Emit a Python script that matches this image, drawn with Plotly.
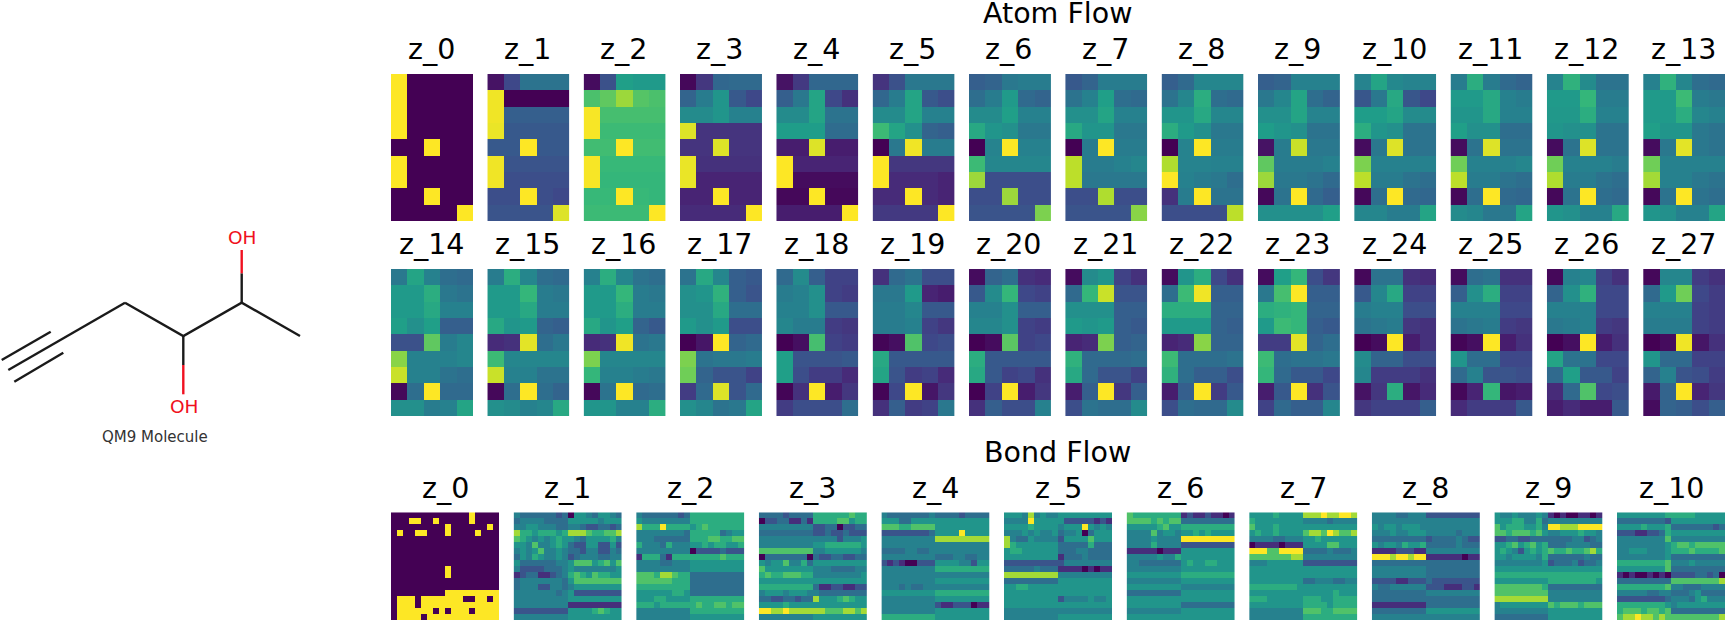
import plotly.graph_objects as go

# ---------- atom flow panels: 9 rows x 5 columns, values read on a 0-100 viridis position ----------
atom_z_0 = [[100,0,0,0,0],[100,0,0,0,0],[100,0,0,0,0],[100,0,0,0,0],[0,0,100,0,0],[100,0,0,0,0],[100,0,0,0,0],[0,0,100,0,0],[0,0,0,0,100]]
atom_z_1 = [[5,22,38,38,38],[98,0,0,0,0],[98,30,30,30,30],[97,28,28,28,28],[28,28,100,28,28],[98,26,26,26,26],[98,24,24,24,24],[24,24,100,24,22],[26,26,26,26,95]]
atom_z_2 = [[3,25,56,54,54],[71,75,85,73,71],[99,70,70,70,70],[99,68,68,68,68],[69,69,100,69,69],[99,67,67,67,67],[99,66,66,66,66],[67,67,100,67,66],[68,68,68,68,100]]
atom_z_3 = [[2,16,33,34,34],[32,42,52,28,22],[48,48,52,44,44],[95,15,15,15,15],[15,15,95,15,15],[97,14,14,14,14],[97,10,10,10,10],[10,10,100,10,10],[12,12,12,12,100]]
atom_z_4 = [[5,17,33,33,33],[30,40,58,22,14],[48,48,58,38,38],[55,55,55,35,35],[8,8,95,8,8],[100,10,10,10,10],[100,3,3,3,3],[2,2,100,2,2],[8,8,8,8,100]]
atom_z_5 = [[15,25,40,40,40],[33,42,58,28,24],[48,48,58,44,44],[68,58,50,32,30],[0,40,98,42,42],[100,16,16,16,16],[100,12,12,12,10],[12,12,100,12,10],[17,17,17,17,100]]
atom_z_6 = [[30,32,40,42,42],[36,42,54,34,32],[48,48,56,44,44],[60,52,50,40,40],[0,45,100,44,44],[68,46,46,46,46],[85,24,24,24,24],[24,24,85,24,24],[26,26,26,26,80]]
atom_z_7 = [[28,32,42,42,42],[38,44,56,36,34],[50,50,58,44,44],[60,52,52,40,40],[0,42,100,42,42],[90,42,42,44,46],[90,40,40,40,40],[24,24,88,24,24],[26,26,26,26,82]]
atom_z_8 = [[30,34,46,46,46],[38,46,62,36,34],[52,52,60,46,46],[62,54,50,40,40],[0,45,100,42,42],[88,45,45,44,44],[100,44,42,40,36],[14,42,100,38,38],[24,24,24,24,90]]
atom_z_9 = [[30,32,44,44,44],[40,46,58,36,32],[50,50,58,45,45],[55,52,50,38,38],[5,42,92,40,40],[75,42,42,42,44],[85,40,40,38,34],[2,38,100,34,30],[50,50,50,50,56]]
atom_z_10 = [[45,58,47,45,45],[27,40,60,27,22],[55,55,58,48,48],[62,52,50,38,38],[3,40,95,38,38],[80,44,44,44,44],[90,42,42,38,36],[2,36,100,34,33],[46,46,42,42,58]]
atom_z_11 = [[42,62,42,34,32],[54,54,60,44,42],[52,52,60,44,44],[56,50,50,36,36],[3,38,95,38,38],[78,44,44,44,46],[90,42,42,38,36],[2,36,100,34,33],[48,46,40,40,58]]
atom_z_12 = [[45,64,48,38,38],[54,54,66,42,42],[53,53,62,44,44],[52,50,50,38,38],[3,38,95,38,38],[78,44,44,44,42],[88,42,42,38,36],[2,38,100,36,34],[52,50,44,44,60]]
atom_z_13 = [[44,64,46,36,34],[54,54,68,42,40],[54,54,62,46,44],[56,52,52,40,38],[3,40,96,40,38],[78,44,44,44,44],[86,44,44,40,38],[2,38,100,38,36],[52,50,44,44,58]]
atom_z_14 = [[40,58,44,36,34],[54,54,62,40,38],[54,54,60,44,44],[56,50,56,30,30],[25,25,75,42,46],[82,44,44,44,46],[92,44,44,38,36],[2,36,100,34,34],[50,50,42,44,58]]
atom_z_15 = [[42,62,46,36,34],[54,54,66,42,40],[54,54,60,42,42],[60,52,54,32,30],[12,14,96,36,40],[68,46,46,46,46],[92,44,44,38,38],[2,36,100,36,32],[50,48,44,46,60]]
atom_z_16 = [[44,62,46,38,36],[54,54,66,42,40],[54,54,62,42,42],[60,52,56,32,28],[12,14,98,38,40],[80,46,46,46,46],[66,44,44,42,40],[2,38,100,34,36],[52,52,44,44,62]]
atom_z_17 = [[38,60,46,30,28],[50,52,64,30,26],[50,50,60,36,36],[54,50,54,24,24],[0,6,100,32,34],[80,38,40,40,42],[78,32,26,26,20],[18,34,95,26,34],[50,46,38,40,58]]
atom_z_18 = [[34,48,30,20,20],[42,44,50,20,18],[44,44,50,28,28],[46,42,42,18,16],[0,4,70,20,18],[56,26,26,26,28],[56,24,18,18,12],[1,14,100,8,16],[18,24,24,24,36]]
atom_z_19 = [[14,34,38,24,24],[40,40,54,10,8],[42,42,46,28,28],[42,42,44,20,16],[1,4,72,22,24],[60,28,28,28,28],[58,26,18,20,12],[1,22,100,6,16],[14,30,18,20,40]]
atom_z_20 = [[3,32,36,14,12],[28,48,66,22,20],[44,44,50,30,30],[46,46,50,20,18],[0,3,74,20,22],[62,28,28,28,28],[60,28,20,22,14],[0,20,100,8,16],[14,30,24,24,44]]
atom_z_21 = [[3,48,52,20,14],[34,66,92,26,26],[50,50,50,30,30],[54,52,54,30,28],[10,12,80,30,32],[64,34,34,34,36],[60,34,26,26,20],[8,30,100,16,30],[24,38,36,36,48]]
atom_z_22 = [[3,52,62,22,14],[36,68,98,30,30],[62,62,62,32,32],[54,54,54,32,30],[10,12,82,32,32],[68,36,36,36,38],[64,36,30,30,24],[8,30,100,18,28],[24,36,34,34,48]]
atom_z_23 = [[3,56,66,24,16],[40,70,100,30,30],[62,64,66,32,32],[54,68,66,30,28],[18,18,96,32,36],[68,36,38,38,40],[66,34,28,28,22],[8,28,100,14,26],[20,34,30,30,46]]
atom_z_24 = [[2,38,38,14,12],[28,46,60,20,20],[42,44,44,24,24],[38,40,42,16,14],[0,3,100,8,14],[48,32,32,24,24],[46,18,18,18,14],[5,16,62,6,12],[16,20,20,20,30]]
atom_z_25 = [[3,36,38,14,14],[30,50,62,20,20],[44,44,44,22,22],[38,40,42,18,16],[1,4,100,8,14],[52,36,36,22,22],[34,44,26,26,24],[2,10,66,6,8],[12,18,18,18,28]]
atom_z_26 = [[2,44,46,20,14],[32,50,64,22,22],[44,44,44,22,22],[40,42,44,18,16],[0,4,100,8,14],[58,38,38,22,22],[34,56,28,28,20],[12,34,72,22,24],[8,12,8,8,28]]
atom_z_27 = [[2,46,46,18,14],[34,54,78,22,18],[44,44,44,20,18],[42,42,42,20,18],[0,3,98,6,14],[52,34,34,20,20],[32,44,26,24,18],[7,32,100,10,16],[3,32,30,24,30]]
atom_panels = [atom_z_0,atom_z_1,atom_z_2,atom_z_3,atom_z_4,atom_z_5,atom_z_6,atom_z_7,atom_z_8,atom_z_9,atom_z_10,atom_z_11,atom_z_12,atom_z_13,
               atom_z_14,atom_z_15,atom_z_16,atom_z_17,atom_z_18,atom_z_19,atom_z_20,atom_z_21,atom_z_22,atom_z_23,atom_z_24,atom_z_25,atom_z_26,atom_z_27]

# ---------- bond flow panels: 18 rows x 18 columns, one digit per cell ----------
# each digit is a reading level; bond_levels gives its position (0-100) along viridis
bond_levels = [0, 13, 26, 36, 44, 52, 62, 72, 86, 100]
bond_z_0 = ["000000000000090000","000990090000090000","000000000900000090","090099000900009000",
            "000000000000000000","000000000000000000","000000000000000000","000000000000000000","000000000000000000",
            "000000000900000000","000000000900000000","000000000000000000","000000000000000000","000000000999999999",
            "099909999999009909","099909999999999999","099999909099909999","099990999999999999"]
bond_z_1 = ["433333323055435543","344443333555554555","445544433443223323","866566656888766778","765454565543555564","554744565322552252",
            "454574454332442243","354654454234443344","533333344577756757","422223334544444445","123311234676576655","344444443577777777",
            "344422443455555555","444444434522222222","444444444555555555","444444444111111111","222222222555567655","444444444555555555"]
bond_z_2 = ["433333323666666666","544444444666666666","866696666567666666","444444443666663455","444333333666776677","644436444556566556",
            "444444444022223222","166631666666667666","444433444555555555","444444444555555555","777688766333333333","777777666333333333",
            "666666666333333333","555555665333333333","555665555666666666","666566666676677677","444444444666666666","444444444555555555"]
bond_z_3 = ["333323333666666766","022331131666677566","444444444223302233","333333333223223222","444444444444424445","444444444556666665",
            "777777777445555554","033333330322332233","545574463555555555","755555555444333344","676677766444444445","555555555555555555",
            "666666666311221122","455545554433333333","332233233855567655","555565555555555555","998898888887778878","444444444555555555"]
bond_z_4 = ["433333334333323333","555335555555555555","777667777555555555","222222223555595555","444444444888888888","444444444444444444",
            "333344334444444444","444444444333443344","212100222555544255","444444444666666666","444444444444444444","444444444555555555",
            "444343344444444444","555555555666666666","444444444555555555","444444444211222011","444444444555555555","666666666555555555"]
bond_z_5 = ["555484544555555555","444495555522222121","555565555455595454","444545445344503555","843354444255557555","865555555333336333",
            "566555555333443333","555555555133343333","222222222244444444","333334333111101011","888888888444444444","333333333555555555",
            "556655555555555555","555555555555555555","555555555244445445","555555555555555555","444444444444444444","444444444555555555"]
bond_z_6 = ["766666666121121101","777767677333333333","555556755666666666","444474554556565555","444454444999999999","444464444222222222",
            "111110111555555555","444445446555555555","443333333565566555","444444444555555555","555555555666666666","444444444555555555",
            "555555555444444444","333333333555555555","555555555555555555","555555555333333333","444444444555555555","555555555555555555"]
bond_z_7 = ["555565555888988998","655555555444434444","755565555555555555","565565555788798778","444433444556555555","011110111555577555",
            "999779999333343334","777777788444444444","444555555222222222","555555555555555555","555555555555555555","555555555334443344",
            "666666665555555555","555555555555556555","666555555666556666","555555555666656666","444444444777667777","444444444666666666"]
bond_z_8 = ["444433444222222222","444444444444444444","545545554444444444","444544555444443444","333333333233334322","545546556333334333",
            "111122211444444444","999899899111111011","333333333333333333","444444444333333333","444444444333333333","222211222322222222",
            "433444444222111221","333333333444444444","333333333333333333","111111111333333333","333333333555555555","444444444444444444"]
bond_z_9 = ["544544454101001101","555664463444444444","756665564998889999","776777675445556554","223322333333344234","556756756333444433",
            "565425656766766786","554555546333333433","444444445233342334","555555555555555555","666666666666666666","555555555666666665",
            "777777776333333333","777777777444444444","888888888444444444","455555555767776777","444444444555555555","333333333555555555"]
bond_z_10 = ["555555556666655555","333333332555555555","555565556333333323","222112236555555555","444444447444444444","444444445677677777",
             "445554445666766667","444444445333333333","666666667444544444","555555557333333333","101001010222233230","333333333777777778",
             "666666667443334444","444443344333453333","222222223444356444","666666665455555555","677767767333333333","788988787777777778"]
bond_panels = [bond_z_0,bond_z_1,bond_z_2,bond_z_3,bond_z_4,bond_z_5,bond_z_6,bond_z_7,bond_z_8,bond_z_9,bond_z_10]

# ---------- labels ----------
atom_titles = [f"z_{i}" for i in range(28)]
bond_titles = [f"z_{i}" for i in range(11)]

# ---------- molecule sketch, in page units ----------
bond_black_x = [[1.7,50.7],[8.3,125],[14.3,63.3],[125,183.3,241.7,300],[241.7,241.7],[183.3,183.3]]
bond_black_y = [[360,331.7],[370,302.7],[381.7,352.7],[302.7,336,302.7,336],[302.7,273.3],[336,365]]
bond_red_x = [[241.7,241.7],[183.3,183.3]]
bond_red_y = [[273.3,250],[365,394.3]]

W, H = 1725, 620
FONT = "DejaVu Sans"
fig = go.Figure()
layout = {}
ann = []
axis_n = [1]

def place(z, x0, x1, y0, y1):
    n = axis_n[0]
    axis_n[0] += 1
    s = "" if n == 1 else str(n)
    rows, cols = len(z), len(z[0])
    fig.add_trace(go.Heatmap(z=z, colorscale="Viridis", zmin=0, zmax=100, showscale=False,
                             xaxis="x" + s, yaxis="y" + s, hoverinfo="skip"))
    layout["xaxis" + s] = dict(domain=[x0 / W, min(x1 / W, 1)], range=[-0.5, cols - 0.5], visible=False, anchor="y" + s, fixedrange=True)
    layout["yaxis" + s] = dict(domain=[max(1 - y1 / H, 0), 1 - y0 / H], range=[rows - 0.5, -0.5], visible=False, anchor="x" + s, fixedrange=True)

def text(s, x, y, size, color="#000000"):
    ann.append(dict(text=s, x=x, y=y, xref="x40", yref="y40", showarrow=False, xanchor="center", yanchor="middle",
                    font=dict(family=FONT, size=size, color=color)))

for i, z in enumerate(atom_panels):
    col = i % 14
    x0 = 391 + col * 96.32
    y0 = 74 if i < 14 else 269
    place(z, x0, x0 + 82, y0, y0 + 147)
    text(atom_titles[i], x0 + 40, y0 - 25, 28.5)

for i, rows in enumerate(bond_panels):
    z = [[bond_levels[int(c)] for c in r] for r in rows]
    x0 = 391 + i * 122.6
    place(z, x0, x0 + 108.3, 512.3, 620.3)
    text(bond_titles[i], x0 + 54, 488.5, 28.5)

layout["xaxis40"] = dict(domain=[0, 1], range=[0, W], visible=False, anchor="y40", fixedrange=True)
layout["yaxis40"] = dict(domain=[0, 1], range=[H, 0], visible=False, anchor="x40", fixedrange=True)
for xs, ys in zip(bond_black_x, bond_black_y):
    fig.add_trace(go.Scatter(x=xs, y=ys, mode="lines", line=dict(color="#1a1a1a", width=2.4), xaxis="x40", yaxis="y40", hoverinfo="skip", showlegend=False))
for xs, ys in zip(bond_red_x, bond_red_y):
    fig.add_trace(go.Scatter(x=xs, y=ys, mode="lines", line=dict(color="#f01020", width=2.4), xaxis="x40", yaxis="y40", hoverinfo="skip", showlegend=False))

text("Atom Flow", 1058, 13, 28.5)
text("Bond Flow", 1057, 452, 28.5)
text("OH", 242.3, 237.5, 18.5, "#f01020")
text("OH", 183.5, 406.5, 18.5, "#f01020")
text("QM9 Molecule", 155, 437, 15, "#333333")

fig.update_layout(width=W, height=H, margin=dict(l=0, r=0, t=0, b=0), paper_bgcolor="white", plot_bgcolor="rgba(0,0,0,0)",
                  showlegend=False, annotations=ann, **layout)
fig.write_html("out.html", config=dict(displayModeBar=False),
               post_script="document.body.style.margin='0';document.body.style.overflow='hidden';")
